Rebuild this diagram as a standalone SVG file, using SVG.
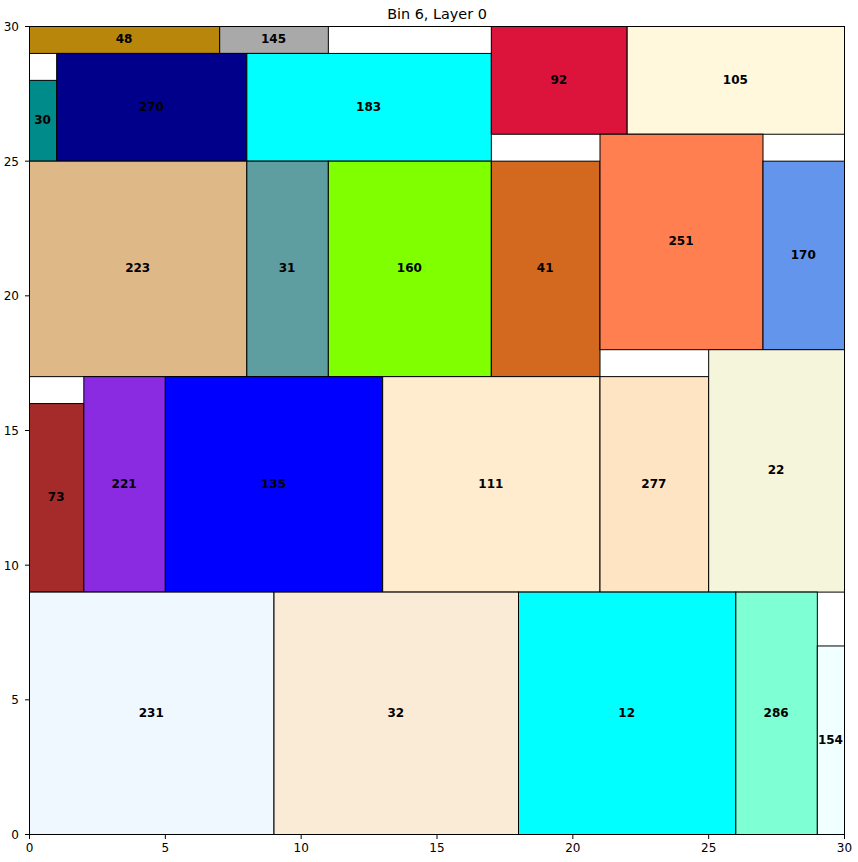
<svg xmlns="http://www.w3.org/2000/svg" width="858" height="862" viewBox="0 0 858 862">
<style>
.r{stroke:#000;stroke-width:1}
.l{font-family:"DejaVu Sans",sans-serif;font-weight:bold;font-size:12px;text-anchor:middle;fill:#000;transform:translate(-0.5px,-0.8px)}
.t{font-family:"DejaVu Sans",sans-serif;font-size:12px;fill:#000}
.tk{stroke:#000;stroke-width:1}
</style>
<rect width="858" height="862" fill="#fff"/>
<text x="437" y="19" style="font-family:'DejaVu Sans',sans-serif;font-size:14.4px;text-anchor:middle">Bin 6, Layer 0</text>
<g id="n48"><rect class="r" x="29.5" y="26.5" width="190.17" height="26.93" fill="#B8860B"/><text class="l" x="124.58" y="44.3">48</text></g>
<g id="n145"><rect class="r" x="219.67" y="26.5" width="108.67" height="26.93" fill="#A9A9A9"/><text class="l" x="274" y="44.3">145</text></g>
<g id="n30"><rect class="r" x="29.5" y="80.37" width="27.17" height="80.8" fill="#008B8B"/><text class="l" x="43.08" y="125.1">30</text></g>
<g id="n270"><rect class="r" x="56.67" y="53.43" width="190.17" height="107.73" fill="#00008B"/><text class="l" x="151.75" y="111.6">270</text></g>
<g id="n183"><rect class="r" x="246.83" y="53.43" width="244.5" height="107.73" fill="#00FFFF"/><text class="l" x="369.08" y="111.6">183</text></g>
<g id="n92"><rect class="r" x="491.33" y="26.5" width="135.83" height="107.73" fill="#DC143C"/><text class="l" x="559.25" y="84.7">92</text></g>
<g id="n105"><rect class="r" x="627.17" y="26.5" width="217.33" height="107.73" fill="#FFF8DC"/><text class="l" x="735.83" y="84.7">105</text></g>
<g id="n223"><rect class="r" x="29.5" y="161.17" width="217.33" height="215.47" fill="#DEB887"/><text class="l" x="138.17" y="273.2">223</text></g>
<g id="n31"><rect class="r" x="246.83" y="161.17" width="81.5" height="215.47" fill="#5F9EA0"/><text class="l" x="287.58" y="273.2">31</text></g>
<g id="n160"><rect class="r" x="328.33" y="161.17" width="163" height="215.47" fill="#7FFF00"/><text class="l" x="409.83" y="273.2">160</text></g>
<g id="n41"><rect class="r" x="491.33" y="161.17" width="108.67" height="215.47" fill="#D2691E"/><text class="l" x="545.67" y="273.2">41</text></g>
<g id="n251"><rect class="r" x="600" y="134.23" width="163" height="215.47" fill="#FF7F50"/><text class="l" x="681.5" y="246.3">251</text></g>
<g id="n170"><rect class="r" x="763" y="161.17" width="81.5" height="188.53" fill="#6495ED"/><text class="l" x="803.75" y="259.7">170</text></g>
<g id="n73"><rect class="r" x="29.5" y="403.57" width="54.33" height="188.53" fill="#A52A2A"/><text class="l" x="56.67" y="502.1">73</text></g>
<g id="n221"><rect class="r" x="83.83" y="376.63" width="81.5" height="215.47" fill="#8A2BE2"/><text class="l" x="124.58" y="488.7">221</text></g>
<g id="n135"><rect class="r" x="165.33" y="376.63" width="217.33" height="215.47" fill="#0000FF"/><text class="l" x="274" y="488.7">135</text></g>
<g id="n111"><rect class="r" x="382.67" y="376.63" width="217.33" height="215.47" fill="#FFEBCD"/><text class="l" x="491.33" y="488.7">111</text></g>
<g id="n277"><rect class="r" x="600" y="376.63" width="108.67" height="215.47" fill="#FFE4C4"/><text class="l" x="654.33" y="488.7">277</text></g>
<g id="n22"><rect class="r" x="708.67" y="349.7" width="135.83" height="242.4" fill="#F5F5DC"/><text class="l" x="776.58" y="475.2">22</text></g>
<g id="n231"><rect class="r" x="29.5" y="592.1" width="244.5" height="242.4" fill="#F0F8FF"/><text class="l" x="151.75" y="717.6">231</text></g>
<g id="n32"><rect class="r" x="274" y="592.1" width="244.5" height="242.4" fill="#FAEBD7"/><text class="l" x="396.25" y="717.6">32</text></g>
<g id="n12"><rect class="r" x="518.5" y="592.1" width="217.33" height="242.4" fill="#00FFFF"/><text class="l" x="627.17" y="717.6">12</text></g>
<g id="n286"><rect class="r" x="735.83" y="592.1" width="81.5" height="242.4" fill="#7FFFD4"/><text class="l" x="776.58" y="717.6">286</text></g>
<g id="n154"><rect class="r" x="817.33" y="645.97" width="27.17" height="188.53" fill="#F0FFFF"/><text class="l" x="830.92" y="744.5">154</text></g>
<g id="axes">
<rect x="29.5" y="26.5" width="815" height="808" fill="none" stroke="#000" stroke-width="1"/>
<path class="tk" d="M29.5 834.5V839M165.33 834.5V839M301.17 834.5V839M437 834.5V839M572.83 834.5V839M708.67 834.5V839M844.5 834.5V839M25 834.5H29.5M25 699.83H29.5M25 565.17H29.5M25 430.5H29.5M25 295.83H29.5M25 161.17H29.5M25 26.5H29.5"/>
<g class="t" text-anchor="middle">
<text x="29.5" y="852">0</text><text x="165.33" y="852">5</text><text x="301.17" y="852">10</text><text x="437" y="852">15</text><text x="572.83" y="852">20</text><text x="708.67" y="852">25</text><text x="844.5" y="852">30</text>
</g>
<g class="t" text-anchor="end">
<text x="19" y="838.8">0</text><text x="19" y="704.1">5</text><text x="19" y="569.5">10</text><text x="19" y="434.8">15</text><text x="19" y="300.1">20</text><text x="19" y="165.5">25</text><text x="19" y="30.8">30</text>
</g>
</g>
</svg>
